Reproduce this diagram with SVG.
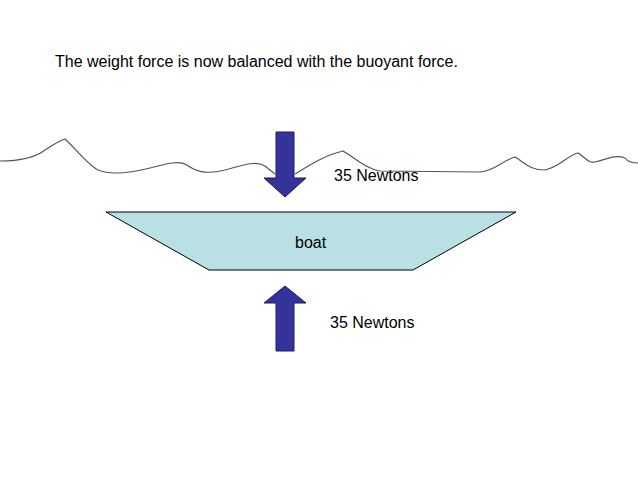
<svg xmlns="http://www.w3.org/2000/svg" width="638" height="478" viewBox="0 0 638 478">
<style>
text{font-family:"Liberation Sans",Arial,sans-serif;font-size:16px;fill:#000}
.arrow{fill:#333399;stroke:#1a1a66;stroke-width:1}
</style>
<rect width="638" height="478" fill="#fff"/>
<text x="55" y="67">The weight force is now balanced with the buoyant force.</text>
<path d="M0,161 C20,161 35,158 45,150 C52,146 58,141 65,139 C75,148 88,165 98,170 C110,175 130,173 150,168 C165,164 178,160 187,165 C195,171 205,175 225,170 C240,166 255,160 265,166 L275,174 M295,174 C310,165 325,155 343,151 C355,158 365,168 380,171 L480,172 C495,171 503,160 515,157 C525,163 530,170 545,170 C560,167 568,155 578,153 C586,158 588,163 595,162 C605,160 615,154 625,158 C628,162 632,163 638,163" fill="none" stroke="#555" stroke-width="1.2"/>
<g id="weight"><polygon class="arrow" points="276,132 294,132 294,178 306,178 285,197 264,178 276,178"/></g>
<g id="boat"><polygon points="106,212 516,212 413,270 209,270" fill="#b9e0e4" stroke="#000" stroke-width="1"/><text x="295" y="248">boat</text></g>
<g id="buoyant"><polygon class="arrow" points="285,286 306,303 294,303 294,351 276,351 276,303 264,303"/></g>
<text x="334" y="181">35 Newtons</text>
<text x="330" y="328">35 Newtons</text>
<g id="connectors"/>
</svg>
